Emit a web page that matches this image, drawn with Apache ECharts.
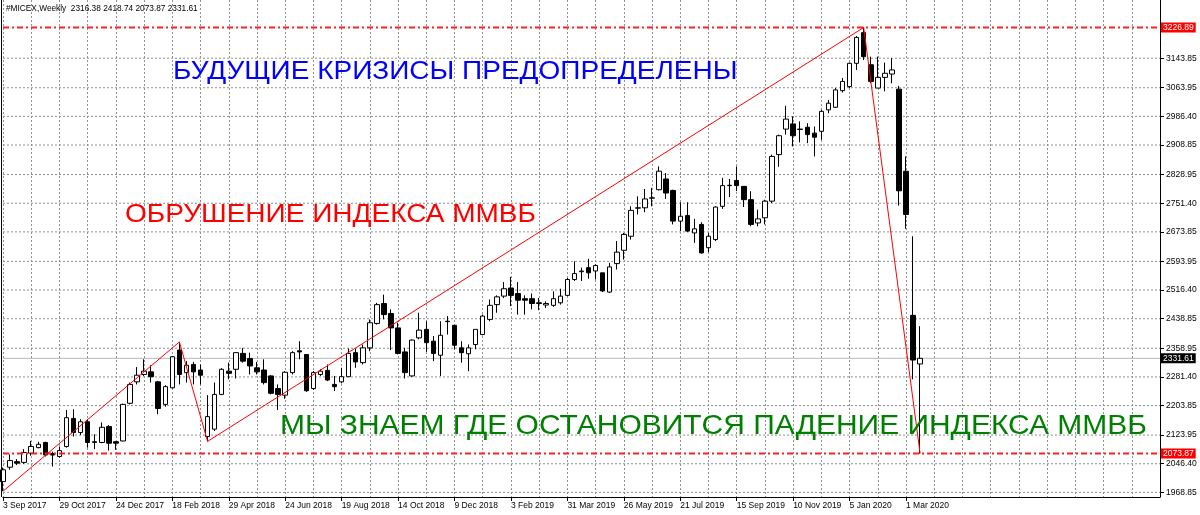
<!DOCTYPE html>
<html><head><meta charset="utf-8">
<script src="https://cdn.jsdelivr.net/npm/echarts@6/dist/echarts.min.js"></script>
<style>html,body{margin:0;padding:0;background:#fff}#c{width:1200px;height:515px}</style>
</head><body><div id="c"></div>
<script>
// ---- data ----
const xTickLabels = ['3 Sep 2017','29 Oct 2017','24 Dec 2017','18 Feb 2018','29 Apr 2018','24 Jun 2018','19 Aug 2018','14 Oct 2018','9 Dec 2018','3 Feb 2019','31 Mar 2019','26 May 2019','21 Jul 2019','15 Sep 2019','10 Nov 2019','5 Jan 2020','1 Mar 2020'];
const yTickValues = [1968.85,2046.40,2123.95,2203.85,2281.40,2358.95,2438.85,2516.40,2593.95,2673.85,2751.40,2828.95,2908.85,2986.40,3063.95,3143.85];
// weekly bars: [open, high, low, close]
const ohlc = [
[1998,2036,1972,2030],[2037,2072,2030,2055],[2052,2059,2043,2048],[2050,2086,2046,2077],[2075,2108,2068,2093],
[2090,2106,2088,2099],[2104,2106,2066,2070],[2074,2079,2039,2070],[2066,2093,2063,2082],[2093,2192,2090,2171],
[2169,2194,2120,2131],[2131,2167,2124,2160],[2160,2167,2090,2104],[2106,2126,2086,2104],[2104,2158,2102,2145],
[2147,2151,2082,2102],[2106,2108,2084,2102],[2108,2209,2107,2207],[2210,2266,2207,2261],[2268,2308,2261,2286],
[2288,2329,2284,2297],[2295,2313,2266,2282],[2268,2270,2180,2196],[2207,2259,2201,2255],[2252,2338,2250,2336],
[2354,2376,2261,2288],[2293,2324,2266,2313],[2315,2322,2261,2295],[2300,2315,2261,2286],[2120,2232,2107,2174],
[2140,2266,2135,2234],[2234,2305,2232,2302],[2297,2320,2275,2291],[2302,2347,2277,2347],[2345,2360,2320,2324],
[2331,2347,2288,2311],[2306,2322,2288,2295],[2300,2329,2261,2266],[2284,2286,2234,2237],[2250,2261,2192,2234],
[2232,2297,2222,2294],[2293,2351,2288,2347],[2352,2378,2329,2349],[2342,2343,2241,2244],[2250,2297,2246,2293],
[2288,2302,2284,2297],[2299,2315,2270,2273],[2261,2284,2243,2255],[2268,2306,2264,2282],[2282,2358,2282,2345],
[2347,2358,2306,2322],[2320,2369,2315,2360],[2360,2437,2351,2428],[2426,2482,2423,2477],[2480,2504,2437,2450],
[2453,2464,2354,2414],[2414,2428,2342,2345],[2349,2360,2277,2293],[2284,2383,2282,2381],[2387,2455,2383,2408],
[2410,2432,2349,2374],[2378,2392,2324,2345],[2340,2432,2284,2394],[2432,2446,2396,2431],[2421,2421,2356,2367],
[2360,2378,2320,2347],[2344,2369,2297,2360],[2369,2410,2356,2410],[2396,2450,2394,2446],[2437,2491,2432,2475],
[2477,2502,2455,2498],[2500,2538,2495,2520],[2522,2552,2473,2502],[2507,2538,2450,2489],[2493,2502,2450,2489],
[2493,2507,2464,2480],[2482,2495,2462,2480],[2476,2486,2468,2480],[2475,2513,2471,2493],[2482,2520,2477,2500],
[2502,2549,2500,2545],[2545,2594,2541,2561],[2566,2577,2541,2568],[2577,2601,2547,2563],[2568,2586,2545,2583],
[2563,2563,2511,2514],[2511,2590,2509,2579],[2588,2649,2572,2619],[2624,2671,2599,2667],[2662,2743,2653,2732],
[2738,2770,2721,2739],[2739,2790,2727,2763],[2765,2793,2743,2766],[2788,2851,2786,2838],[2817,2833,2763,2779],
[2786,2788,2694,2703],[2703,2754,2676,2716],[2718,2754,2673,2676],[2671,2709,2644,2682],[2694,2700,2615,2617],
[2631,2671,2619,2662],[2653,2743,2649,2741],[2743,2820,2736,2799],[2799,2817,2768,2800],[2813,2851,2784,2799],
[2797,2797,2741,2761],[2761,2784,2689,2694],[2698,2734,2689,2709],[2712,2761,2694,2757],[2757,2883,2752,2878],
[2883,2937,2850,2934],[2952,3015,2937,2979],[2966,2986,2905,2934],[2952,2973,2916,2951],[2957,2968,2914,2937],
[2941,2959,2878,2930],[2946,3004,2923,3000],[3004,3031,2995,3022],[3011,3063,3009,3058],[3056,3090,3051,3081],
[3067,3132,3063,3130],[3130,3204,3112,3200],[3213,3226.89,3139,3148],[3126,3148,3076,3081],[3063,3148,3063,3092],
[3092,3132,3054,3103],[3101,3144,3076,3112],[3060,3069,2745,2785],[2838,2878,2682,2721],[2448,2662,2275,2327],
[2316.38,2418.74,2073.87,2331.61]
];
// zigzag turning points: [bar index, price]
const zigzag = [[0,1972],[25,2376],[29,2107],[122,3226.89],[130,2073.87]];
const levelLines = [3226.89, 2073.87];
const lastClose = 2331.61;
const header = '#MICEX,Weekly  2316.38 2418.74 2073.87 2331.61';
const slotCount = 165;

// ---- chart ----
const categories = Array.from({length: slotCount}, (_, i) => String(i));
const lastIdx = slotCount - 1;
const chart = echarts.init(document.getElementById('c'), null, {renderer: 'canvas'});
const FONT = '"Liberation Sans", Arial, sans-serif';
const gridColor = '#909090';
const isLabelIdx = (i) => i % 8 === 0 && i / 8 < xTickLabels.length;
const hLine = (v, color, type, z, label, width) => ({
  type: 'line', data: [[0, v], [lastIdx, v]], symbol: 'none', showSymbol: false, silent: true, z: z,
  lineStyle: {color: color, type: type, width: width || 1}, itemStyle: {color: color},
  emphasis: {disabled: true},
  endLabel: label ? {show: true, distance: 1, color: '#fff', backgroundColor: label, fontSize: 8.5,
    fontFamily: FONT, padding: [1, 2, 0, 2], formatter: () => v.toFixed(2)} : {show: false}
});

chart.setOption({
  animation: false,
  backgroundColor: '#ffffff',
  grid: {left: 3, right: 40, top: 0, bottom: 18, containLabel: false},
  xAxis: {
    type: 'category', data: categories, boundaryGap: false,
    axisLine: {show: true, lineStyle: {color: '#000', width: 1}},
    axisTick: {show: true, length: 4, lineStyle: {color: '#000'}, interval: isLabelIdx},
    axisLabel: {show: true, color: '#000', fontSize: 8.5, fontFamily: FONT, margin: 4, align: 'left',
      interval: isLabelIdx,
      formatter: (v, i) => (i % 8 === 0 && xTickLabels[i / 8]) ? xTickLabels[i / 8] : ''},
    splitLine: {show: true, interval: (i) => i % 4 === 0,
      lineStyle: {color: gridColor, type: [2, 2], width: 1}}
  },
  yAxis: {
    type: 'value', position: 'right', min: 1956.4, max: 3301.3, scale: true,
    axisLine: {show: true, lineStyle: {color: '#000', width: 1}},
    axisTick: {show: true, inside: false, length: 4, customValues: yTickValues, lineStyle: {color: '#000'}},
    axisLabel: {show: true, customValues: yTickValues, color: '#000', fontSize: 8.5, fontFamily: FONT, margin: 6,
      formatter: (v) => Number(v).toFixed(2)},
    splitLine: {show: false}
  },
  series: [
    ...yTickValues.map((v) => hLine(v, gridColor, [2, 2], 1, null, 1)),
    hLine(lastClose, '#b8b8b8', 'solid', 1, '#000000', 1),
    {
      type: 'candlestick', clip: false, barWidth: 5, z: 3,
      data: ohlc.map(([o, h, l, c]) => [o, c, l, h]),
      itemStyle: {color: '#ffffff', color0: '#000000', borderColor: '#000000', borderColor0: '#000000', borderWidth: 1},
      emphasis: {disabled: true}
    },
    ...levelLines.map((v) => hLine(v, '#ff2020', [6, 3, 2, 3], 4, '#ff0000', 2)),
    {
      type: 'line', data: zigzag, showSymbol: false, symbol: 'none', clip: true,
      lineStyle: {color: '#ff0000', width: 1}, itemStyle: {color: '#ff0000'}, z: 5, silent: true
    }
  ],
  graphic: [
    {type: 'line', shape: {x1: 1.5, y1: 0, x2: 1.5, y2: 497}, style: {stroke: '#000', lineWidth: 1}, z: 100},
    {type: 'text', x: 6, y: 9, z: 100, style: {text: header, font: '8.3px ' + FONT, fill: '#000', verticalAlign: 'middle'}},
    {type: 'text', x: 173, y: 72, scaleX: 1.077, z: 100, style: {text: 'БУДУЩИЕ КРИЗИСЫ ПРЕДОПРЕДЕЛЕНЫ', font: '26px ' + FONT, fill: '#0000ff', verticalAlign: 'middle'}},
    {type: 'text', x: 125, y: 215, scaleX: 1.077, z: 100, style: {text: 'ОБРУШЕНИЕ ИНДЕКСА ММВБ', font: '26px ' + FONT, fill: '#ff0000', verticalAlign: 'middle'}},
    {type: 'text', x: 280, y: 426, scaleX: 1.07, z: 100, style: {text: 'МЫ ЗНАЕМ ГДЕ ОСТАНОВИТСЯ ПАДЕНИЕ ИНДЕКСА ММВБ', font: '28px ' + FONT, fill: '#008000', verticalAlign: 'middle'}}
  ]
});
</script>
</body></html>
